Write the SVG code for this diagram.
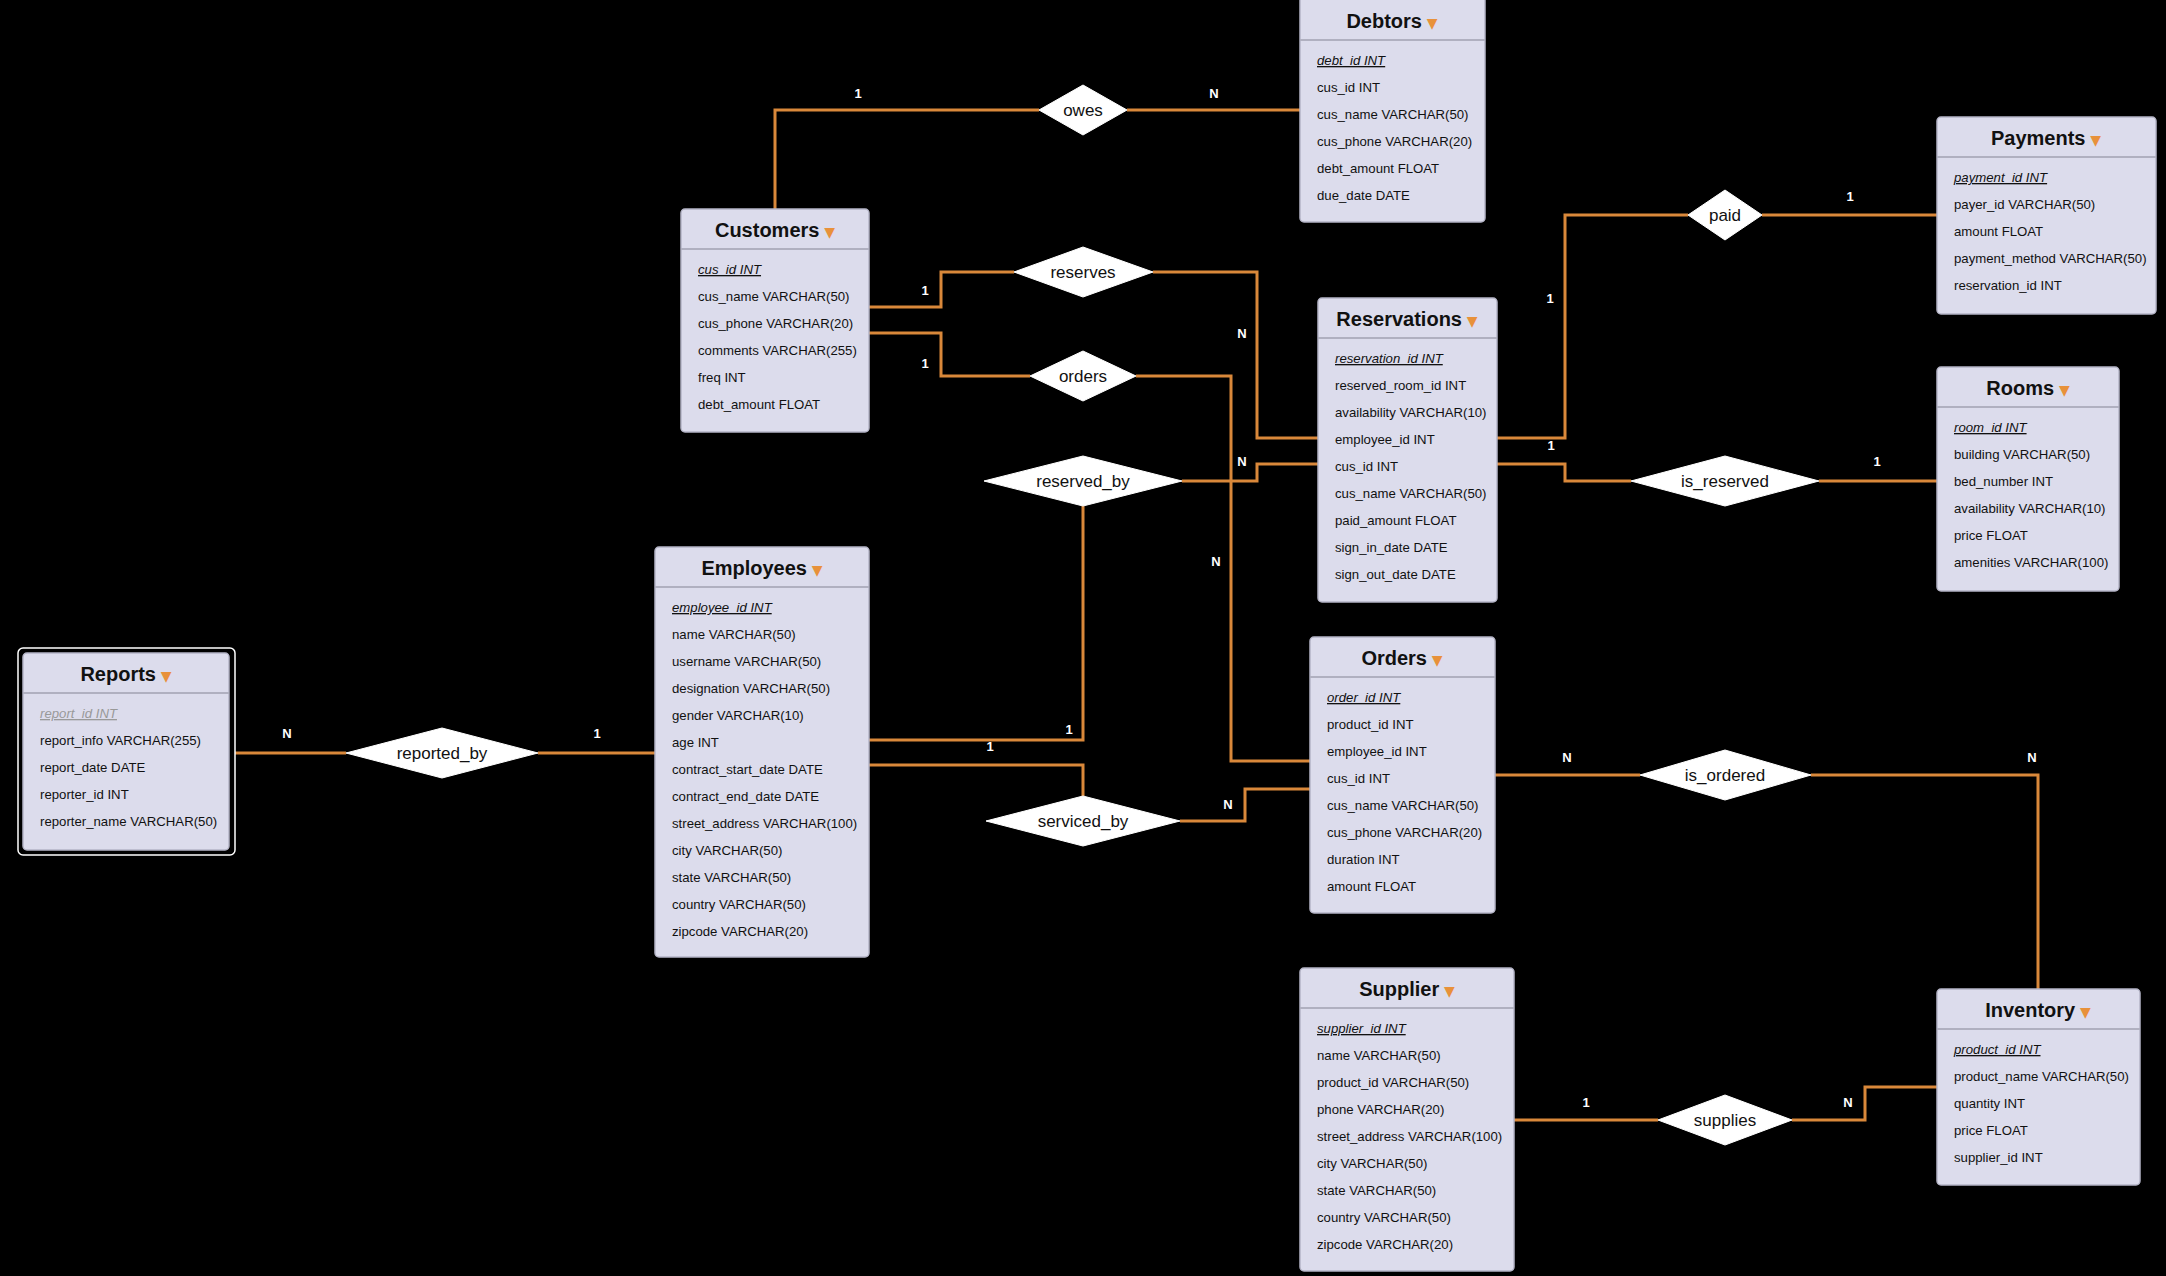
<svg xmlns="http://www.w3.org/2000/svg" width="2166" height="1276" viewBox="0 0 2166 1276">
<style>
.tb{fill:#dcdcec;stroke:#b4b4c6;stroke-width:1.5}
.dv{stroke:#b0b0c0;stroke-width:2}
.tt{font-family:"Liberation Sans",Arial,sans-serif;font-size:20px;font-weight:bold;fill:#111;text-anchor:middle}
.ar{fill:#e8913a;font-size:14px;font-family:"DejaVu Sans",sans-serif}
.r{font-family:"Liberation Sans",Arial,sans-serif;font-size:13.2px;fill:#111}
.pk{font-style:italic;text-decoration:underline}
.gr{fill:#999}
.dm{fill:#fff;stroke:#fff}
.dt{font-family:"Liberation Sans",Arial,sans-serif;font-size:17px;fill:#111;text-anchor:middle}
.cn{fill:none;stroke:#d9883a;stroke-width:3}
.lb{font-family:"Liberation Sans",Arial,sans-serif;font-size:13px;font-weight:bold;fill:#fff;text-anchor:middle}
</style>
<rect width="2166" height="1276" fill="#000"/>
<g id="connectors">
<polyline class="cn" points="775,209 775,110 1039,110"/><polyline class="cn" points="1127,110 1300,110"/>
<polyline class="cn" points="869,307 941,307 941,272 1014,272"/><polyline class="cn" points="1153,272 1257,272 1257,438 1318,438"/>
<polyline class="cn" points="869,333 941,333 941,376 1030,376"/><polyline class="cn" points="1136,376 1231,376 1231,761 1310,761"/>
<polyline class="cn" points="1182,481 1257,481 1257,464 1318,464"/><polyline class="cn" points="1083,506 1083,740 869,740"/>
<polyline class="cn" points="869,765 1083,765 1083,796"/><polyline class="cn" points="1180,821 1245,821 1245,789 1310,789"/>
<polyline class="cn" points="1497,438 1565,438 1565,215 1688,215"/><polyline class="cn" points="1762,215 1937,215"/>
<polyline class="cn" points="1497,464 1565,464 1565,481 1631,481"/><polyline class="cn" points="1819,481 1937,481"/>
<polyline class="cn" points="235,753 346,753"/><polyline class="cn" points="538,753 655,753"/>
<polyline class="cn" points="1495,775 1640,775"/><polyline class="cn" points="1811,775 2038,775 2038,989"/>
<polyline class="cn" points="1514,1120 1658,1120"/><polyline class="cn" points="1792,1120 1865,1120 1865,1087 1937,1087"/>
<text class="lb" x="858" y="98">1</text><text class="lb" x="1214" y="98">N</text>
<text class="lb" x="925" y="295">1</text><text class="lb" x="1242" y="338">N</text>
<text class="lb" x="925" y="368">1</text><text class="lb" x="1216" y="566">N</text>
<text class="lb" x="1242" y="466">N</text><text class="lb" x="1069" y="734">1</text>
<text class="lb" x="990" y="751">1</text><text class="lb" x="1228" y="809">N</text>
<text class="lb" x="1550" y="303">1</text><text class="lb" x="1850" y="201">1</text>
<text class="lb" x="1551" y="450">1</text><text class="lb" x="1877" y="466">1</text>
<text class="lb" x="287" y="738">N</text><text class="lb" x="597" y="738">1</text>
<text class="lb" x="1567" y="762">N</text><text class="lb" x="2032" y="762">N</text>
<text class="lb" x="1586" y="1107">1</text><text class="lb" x="1848" y="1107">N</text>
</g>
<g id="owes"><polygon class="dm" points="1039,110 1083,85 1127,110 1083,135"/><text class="dt" x="1083" y="116">owes</text></g>
<g id="reserves"><polygon class="dm" points="1014,272 1083,247 1153,272 1083,297"/><text class="dt" x="1083" y="278">reserves</text></g>
<g id="orders"><polygon class="dm" points="1030,376 1083,351 1136,376 1083,401"/><text class="dt" x="1083" y="382">orders</text></g>
<g id="reserved_by"><polygon class="dm" points="984,481 1083,456 1182,481 1083,506"/><text class="dt" x="1083" y="487">reserved_by</text></g>
<g id="serviced_by"><polygon class="dm" points="986,821 1083,796 1180,821 1083,846"/><text class="dt" x="1083" y="827">serviced_by</text></g>
<g id="paid"><polygon class="dm" points="1688,215 1725,190 1762,215 1725,240"/><text class="dt" x="1725" y="221">paid</text></g>
<g id="is_reserved"><polygon class="dm" points="1631,481 1725,456 1819,481 1725,506"/><text class="dt" x="1725" y="487">is_reserved</text></g>
<g id="reported_by"><polygon class="dm" points="346,753 442,728 538,753 442,778"/><text class="dt" x="442" y="759">reported_by</text></g>
<g id="is_ordered"><polygon class="dm" points="1640,775 1725,750 1811,775 1725,800"/><text class="dt" x="1725" y="781">is_ordered</text></g>
<g id="supplies"><polygon class="dm" points="1658,1120 1725,1095 1792,1120 1725,1145"/><text class="dt" x="1725" y="1126">supplies</text></g>

<g id="Debtors"><rect class="tb" x="1300" y="-6" width="185" height="228" rx="4"/><line class="dv" x1="1300" y1="40" x2="1485" y2="40"/>
<text class="tt" x="1392" y="28">Debtors<tspan class="ar"> ▼</tspan></text>
<text class="r pk" x="1317" y="65">debt_id INT</text><text class="r" x="1317" y="92">cus_id INT</text><text class="r" x="1317" y="119">cus_name VARCHAR(50)</text><text class="r" x="1317" y="146">cus_phone VARCHAR(20)</text><text class="r" x="1317" y="173">debt_amount FLOAT</text><text class="r" x="1317" y="200">due_date DATE</text></g>

<g id="Customers"><rect class="tb" x="681" y="209" width="188" height="223" rx="4"/><line class="dv" x1="681" y1="249" x2="869" y2="249"/>
<text class="tt" x="775" y="237">Customers<tspan class="ar"> ▼</tspan></text>
<text class="r pk" x="698" y="274">cus_id INT</text><text class="r" x="698" y="301">cus_name VARCHAR(50)</text><text class="r" x="698" y="328">cus_phone VARCHAR(20)</text><text class="r" x="698" y="355">comments VARCHAR(255)</text><text class="r" x="698" y="382">freq INT</text><text class="r" x="698" y="409">debt_amount FLOAT</text></g>

<g id="Payments"><rect class="tb" x="1937" y="117" width="219" height="197" rx="4"/><line class="dv" x1="1937" y1="157" x2="2156" y2="157"/>
<text class="tt" x="2046" y="145">Payments<tspan class="ar"> ▼</tspan></text>
<text class="r pk" x="1954" y="182">payment_id INT</text><text class="r" x="1954" y="209">payer_id VARCHAR(50)</text><text class="r" x="1954" y="236">amount FLOAT</text><text class="r" x="1954" y="263">payment_method VARCHAR(50)</text><text class="r" x="1954" y="290">reservation_id INT</text></g>

<g id="Reservations"><rect class="tb" x="1318" y="298" width="179" height="304" rx="4"/><line class="dv" x1="1318" y1="338" x2="1497" y2="338"/>
<text class="tt" x="1407" y="326">Reservations<tspan class="ar"> ▼</tspan></text>
<text class="r pk" x="1335" y="363">reservation_id INT</text><text class="r" x="1335" y="390">reserved_room_id INT</text><text class="r" x="1335" y="417">availability VARCHAR(10)</text><text class="r" x="1335" y="444">employee_id INT</text><text class="r" x="1335" y="471">cus_id INT</text><text class="r" x="1335" y="498">cus_name VARCHAR(50)</text><text class="r" x="1335" y="525">paid_amount FLOAT</text><text class="r" x="1335" y="552">sign_in_date DATE</text><text class="r" x="1335" y="579">sign_out_date DATE</text></g>

<g id="Rooms"><rect class="tb" x="1937" y="367" width="182" height="224" rx="4"/><line class="dv" x1="1937" y1="407" x2="2119" y2="407"/>
<text class="tt" x="2028" y="395">Rooms<tspan class="ar"> ▼</tspan></text>
<text class="r pk" x="1954" y="432">room_id INT</text><text class="r" x="1954" y="459">building VARCHAR(50)</text><text class="r" x="1954" y="486">bed_number INT</text><text class="r" x="1954" y="513">availability VARCHAR(10)</text><text class="r" x="1954" y="540">price FLOAT</text><text class="r" x="1954" y="567">amenities VARCHAR(100)</text></g>

<g id="Employees"><rect class="tb" x="655" y="547" width="214" height="410" rx="4"/><line class="dv" x1="655" y1="587" x2="869" y2="587"/>
<text class="tt" x="762" y="575">Employees<tspan class="ar"> ▼</tspan></text>
<text class="r pk" x="672" y="612">employee_id INT</text><text class="r" x="672" y="639">name VARCHAR(50)</text><text class="r" x="672" y="666">username VARCHAR(50)</text><text class="r" x="672" y="693">designation VARCHAR(50)</text><text class="r" x="672" y="720">gender VARCHAR(10)</text><text class="r" x="672" y="747">age INT</text><text class="r" x="672" y="774">contract_start_date DATE</text><text class="r" x="672" y="801">contract_end_date DATE</text><text class="r" x="672" y="828">street_address VARCHAR(100)</text><text class="r" x="672" y="855">city VARCHAR(50)</text><text class="r" x="672" y="882">state VARCHAR(50)</text><text class="r" x="672" y="909">country VARCHAR(50)</text><text class="r" x="672" y="936">zipcode VARCHAR(20)</text></g>

<g id="Reports"><rect x="18" y="648" width="217" height="207" rx="5" fill="none" stroke="#fff" stroke-width="1.5"/><rect class="tb" x="23" y="653" width="206" height="197" rx="4"/><line class="dv" x1="23" y1="693" x2="229" y2="693"/>
<text class="tt" x="126" y="681">Reports<tspan class="ar"> ▼</tspan></text>
<text class="r pk gr" x="40" y="718">report_id INT</text><text class="r" x="40" y="745">report_info VARCHAR(255)</text><text class="r" x="40" y="772">report_date DATE</text><text class="r" x="40" y="799">reporter_id INT</text><text class="r" x="40" y="826">reporter_name VARCHAR(50)</text></g>

<g id="Orders"><rect class="tb" x="1310" y="637" width="185" height="276" rx="4"/><line class="dv" x1="1310" y1="677" x2="1495" y2="677"/>
<text class="tt" x="1402" y="665">Orders<tspan class="ar"> ▼</tspan></text>
<text class="r pk" x="1327" y="702">order_id INT</text><text class="r" x="1327" y="729">product_id INT</text><text class="r" x="1327" y="756">employee_id INT</text><text class="r" x="1327" y="783">cus_id INT</text><text class="r" x="1327" y="810">cus_name VARCHAR(50)</text><text class="r" x="1327" y="837">cus_phone VARCHAR(20)</text><text class="r" x="1327" y="864">duration INT</text><text class="r" x="1327" y="891">amount FLOAT</text></g>

<g id="Supplier"><rect class="tb" x="1300" y="968" width="214" height="303" rx="4"/><line class="dv" x1="1300" y1="1008" x2="1514" y2="1008"/>
<text class="tt" x="1407" y="996">Supplier<tspan class="ar"> ▼</tspan></text>
<text class="r pk" x="1317" y="1033">supplier_id INT</text><text class="r" x="1317" y="1060">name VARCHAR(50)</text><text class="r" x="1317" y="1087">product_id VARCHAR(50)</text><text class="r" x="1317" y="1114">phone VARCHAR(20)</text><text class="r" x="1317" y="1141">street_address VARCHAR(100)</text><text class="r" x="1317" y="1168">city VARCHAR(50)</text><text class="r" x="1317" y="1195">state VARCHAR(50)</text><text class="r" x="1317" y="1222">country VARCHAR(50)</text><text class="r" x="1317" y="1249">zipcode VARCHAR(20)</text></g>

<g id="Inventory"><rect class="tb" x="1937" y="989" width="203" height="196" rx="4"/><line class="dv" x1="1937" y1="1029" x2="2140" y2="1029"/>
<text class="tt" x="2038" y="1017">Inventory<tspan class="ar"> ▼</tspan></text>
<text class="r pk" x="1954" y="1054">product_id INT</text><text class="r" x="1954" y="1081">product_name VARCHAR(50)</text><text class="r" x="1954" y="1108">quantity INT</text><text class="r" x="1954" y="1135">price FLOAT</text><text class="r" x="1954" y="1162">supplier_id INT</text></g>
</svg>
